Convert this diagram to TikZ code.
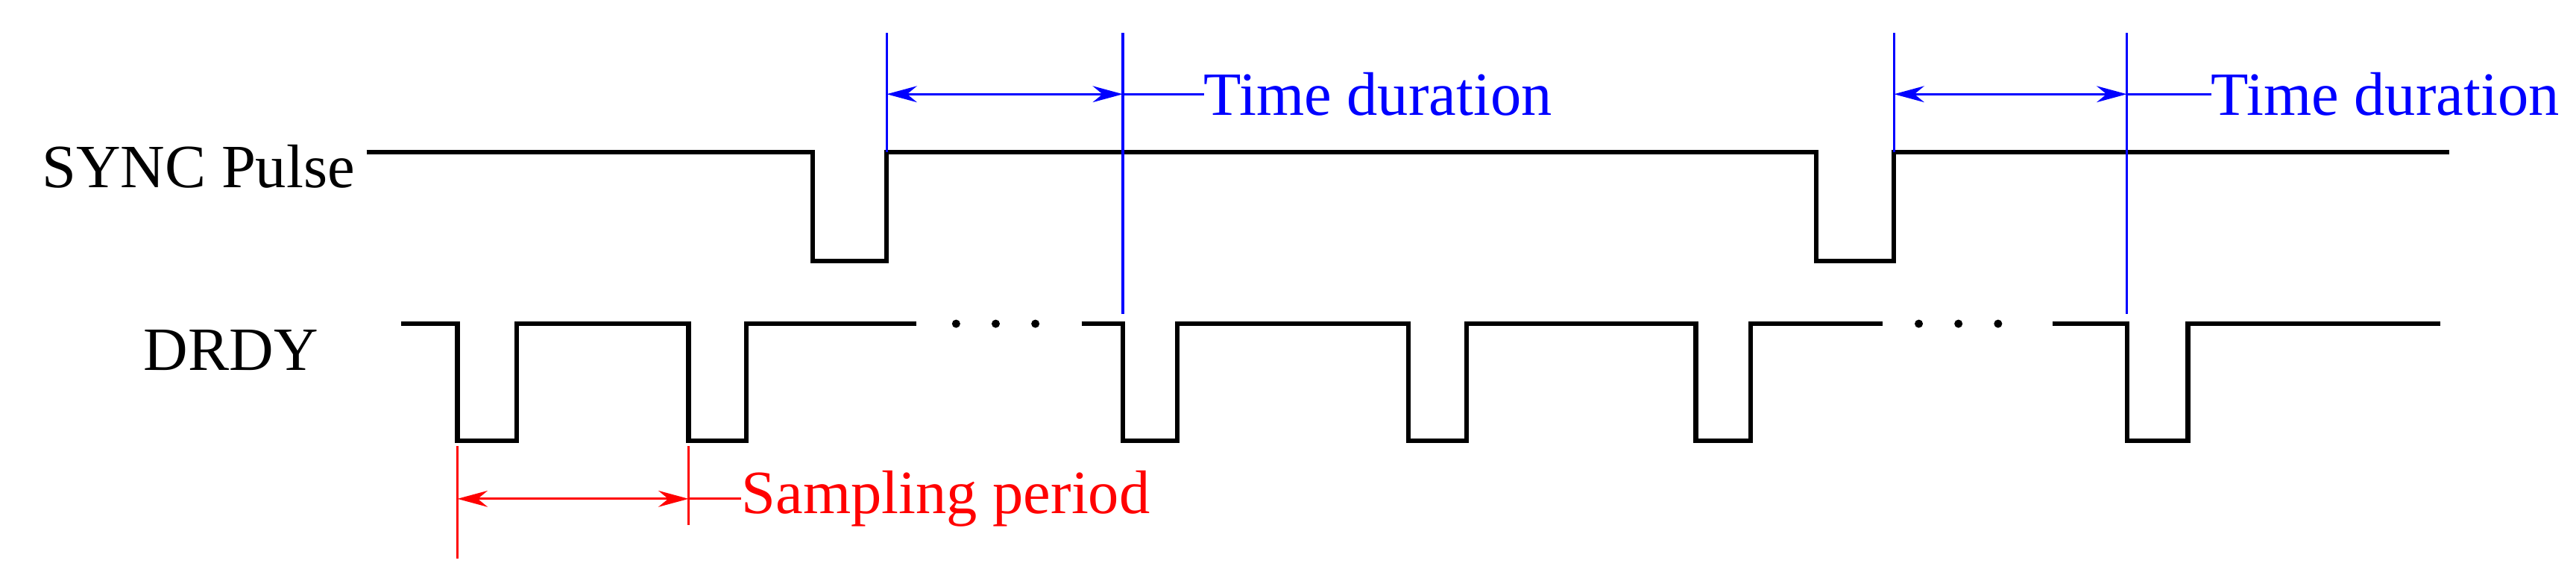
\documentclass[tikz,border=0pt]{standalone}
\usepackage{fontspec}
\setmainfont{Liberation Serif}
\usetikzlibrary{arrows.meta}
\begin{document}
\begin{tikzpicture}[x=0.05cm,y=-0.05cm,
  wave/.style={line width=4pt,line join=miter},
  bl/.style={blue,line width=2pt},
  rd/.style={red,line width=2pt},
  dim/.style={line width=2pt,{Stealth[length=26pt,width=14pt]}-{Stealth[length=26pt,width=14pt]}},
  lbl/.style={font=\fontsize{53}{62}\selectfont,inner sep=0pt}]
\useasboundingbox (0,0) rectangle (1560,348);
% SYNC
\draw[wave] (222,92) -- (492,92) -- (492,158) -- (537,158) -- (537,92) -- (1100,92) -- (1100,158) -- (1147,158) -- (1147,92) -- (1483,92);
% DRDY
\draw[wave] (243,196) -- (277,196) -- (277,267) -- (313,267) -- (313,196) -- (417,196) -- (417,267) -- (452,267) -- (452,196) -- (555,196);
\draw[wave] (655,196) -- (680,196) -- (680,267) -- (713,267) -- (713,196) -- (853,196) -- (853,267) -- (888,267) -- (888,196) -- (1027,196) -- (1027,267) -- (1060,267) -- (1060,196) -- (1140,196);
\draw[wave] (1243,196) -- (1288,196) -- (1288,267) -- (1325,267) -- (1325,196) -- (1478,196);
\foreach \x in {579,603,627,1162,1186,1210} \fill (\x,196) circle (2.5);
% labels
\node[lbl,anchor=east] (sync) at (215,101) {SYNC Pulse};
\node[lbl,anchor=west] (drdy) at (87,212) {DRDY};
% blue markers
\coordinate (a1t) at (537,20); \coordinate (a1b) at (537,92);
\coordinate (b1t) at (680,20); \coordinate (b1b) at (680,190);
\coordinate (a2t) at (1147,20); \coordinate (a2b) at (1147,92);
\coordinate (b2t) at (1288,20); \coordinate (b2b) at (1288,190);
\draw[bl] (a1t) -- (a1b); \draw[bl] (b1t) -- (b1b);
\draw[bl] (a2t) -- (a2b); \draw[bl] (b2t) -- (b2b);
\coordinate (p1) at (537,57); \coordinate (q1) at (680,57);
\coordinate (p2) at (1147,57); \coordinate (q2) at (1288,57);
\draw[bl,dim] (p1) -- (q1);
\draw[bl,dim] (p2) -- (q2);
\node[lbl,blue,anchor=west] (t1) at (729,57) {Time duration};
\node[lbl,blue,anchor=west] (t2) at (1339,57) {Time duration};
\draw[bl] (q1) -- (t1.west);
\draw[bl] (q2) -- (t2.west);
% red
\coordinate (r1t) at (277,270); \coordinate (r1b) at (277,338);
\coordinate (r2t) at (417,270); \coordinate (r2b) at (417,318);
\draw[rd] (r1t) -- (r1b); \draw[rd] (r2t) -- (r2b);
\coordinate (s1) at (277,302); \coordinate (s2) at (417,302);
\draw[rd,dim] (s1) -- (s2);
\node[lbl,red,anchor=west] (sp) at (449,302) {Sampling period};
\draw[rd] (s2) -- (sp.west);
\end{tikzpicture}
\end{document}
